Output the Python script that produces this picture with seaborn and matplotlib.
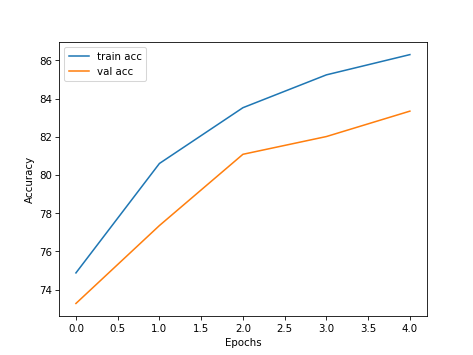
import matplotlib
matplotlib.use('Agg')
import matplotlib.pyplot as plt
import seaborn as sns

epochs = [0, 1, 2, 3, 4]
train_acc = [74.87, 80.6, 83.52, 85.24, 86.3]
val_acc = [73.27, 77.35, 81.08, 82.01, 83.34]

fig, ax = plt.subplots(figsize=(6.4, 4.8), dpi=74.06)
sns.lineplot(x=epochs, y=train_acc, label='train acc', ax=ax)
sns.lineplot(x=epochs, y=val_acc, label='val acc', ax=ax)
ax.set_xlabel('Epochs')
ax.set_ylabel('Accuracy')
ax.legend(loc='upper left')

plt.savefig('out.png', dpi=74.06)
